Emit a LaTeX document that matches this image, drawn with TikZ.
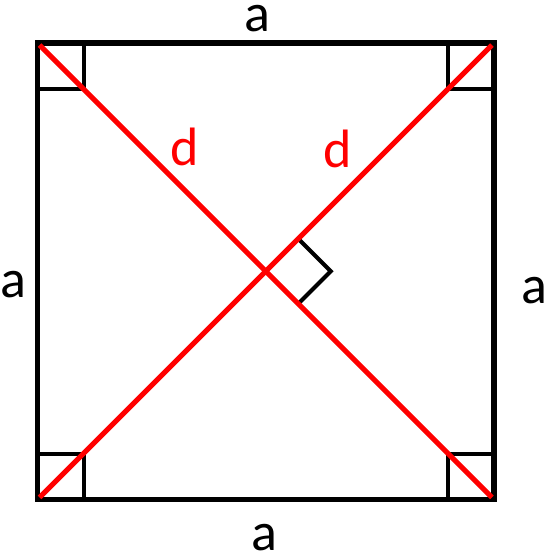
\documentclass[tikz,border=0pt]{standalone}
\usepackage{fontspec}
\setmainfont{Carlito}
\usetikzlibrary{calc}
\tikzstyle{side} = [line width=5.5pt, line join=miter]
\tikzstyle{rightangle} = [line width=4pt]
\tikzstyle{diag} = [line width=5pt, red, shorten >=3pt, shorten <=3pt]
\tikzstyle{lbl} = [anchor=base, inner sep=0pt, text height=0.5em, text depth=0pt, font=\fontsize{54}{60}\selectfont]

\begin{document}
\begin{tikzpicture}[x=1pt, y=-1pt]
        \useasboundingbox (0,0) rectangle (546,552);
        % corners of the square
        \coordinate (A) at (37.5,43);
        \coordinate (B) at (494,43);
        \coordinate (C) at (494,499.5);
        \coordinate (D) at (37.5,499.5);
        \coordinate (O) at ($(A)!0.5!(C)$);

        \draw[side] (A) -- (B) -- (C) -- (D) -- cycle;

        % right angles at the corners
        \draw[rightangle] ($(A)+(46,0)$) -- ++(0,46) -- ++(-46,0);
        \draw[rightangle] ($(B)+(-46,0)$) -- ++(0,46) -- ++(46,0);
        \draw[rightangle] ($(C)+(-46,0)$) -- ++(0,-46) -- ++(46,0);
        \draw[rightangle] ($(D)+(46,0)$) -- ++(0,-46) -- ++(-46,0);

        % right angle where the diagonals cross
        \coordinate (P1) at ($(O)!46pt!(B)$);
        \coordinate (P2) at ($(O)!46pt!(C)$);
        \draw[rightangle] (P1) -- ($(P1)+(P2)-(O)$) -- (P2);

        \draw[diag] (A) -- (C);
        \draw[diag] (B) -- (D);

        \node[lbl] (top) at (257.5,31.5) {a};
        \node[lbl] (bottom) at (264,550) {a};
        \node[lbl] (left) at (13.5,297) {a};
        \node[lbl] (right) at (534,303) {a};
        \node[lbl, red] (d1) at (185,165) {d};
        \node[lbl, red] (d2) at (337.5,167) {d};
\end{tikzpicture}
\end{document}
